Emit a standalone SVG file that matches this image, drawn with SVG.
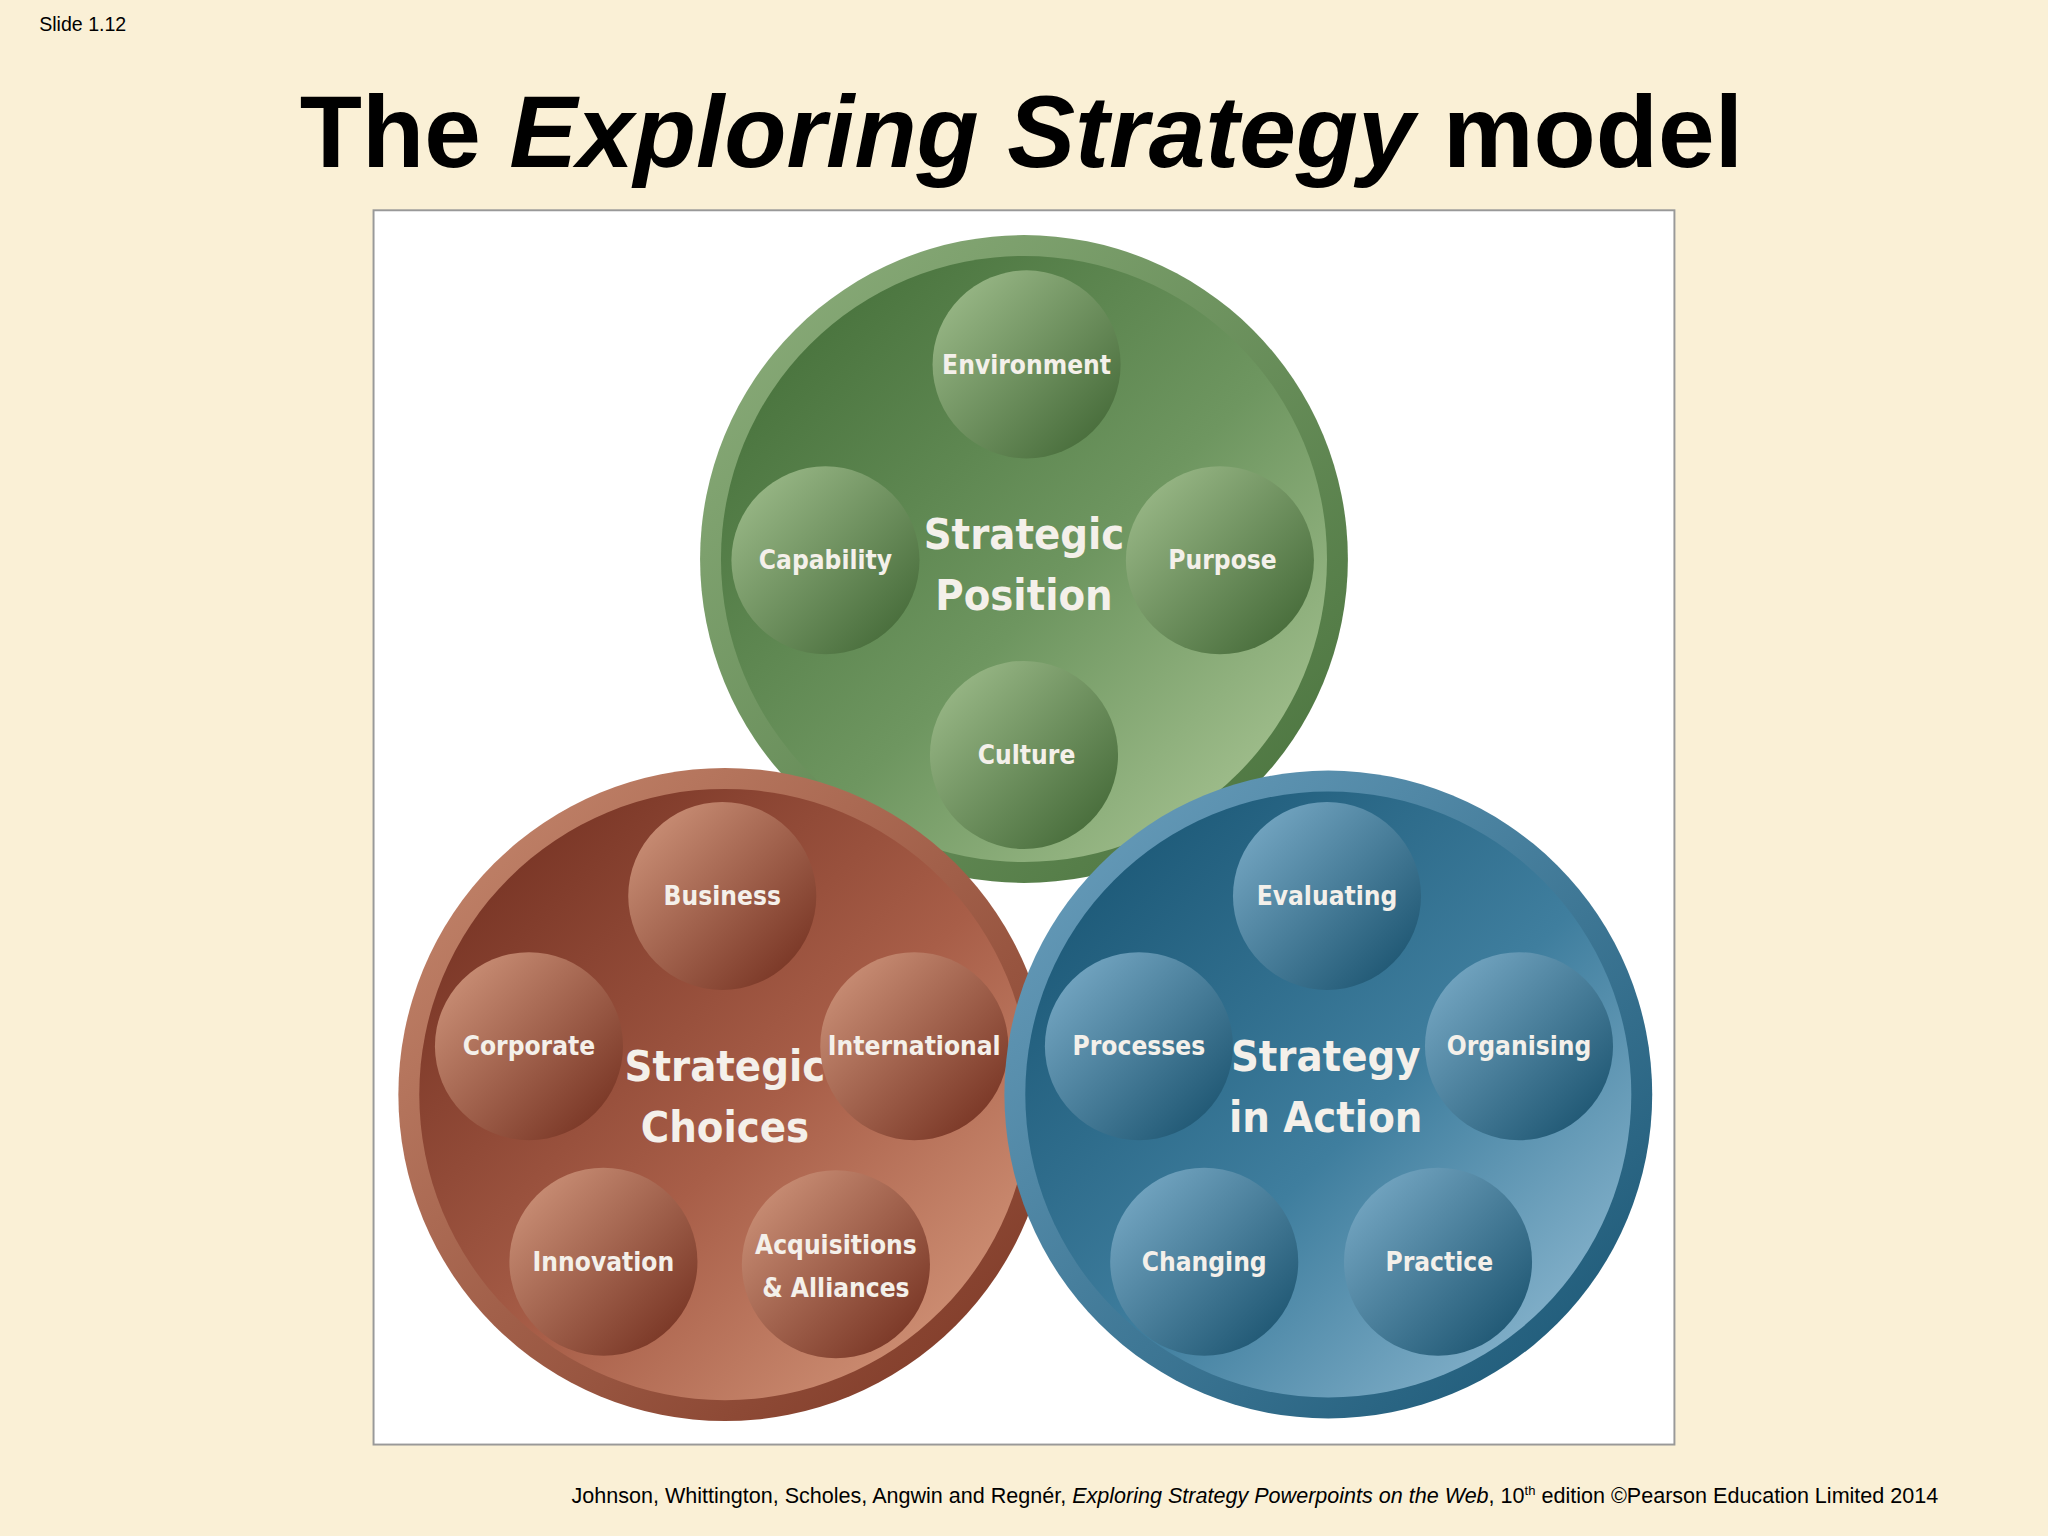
<svg xmlns="http://www.w3.org/2000/svg" width="2048" height="1536" viewBox="0 0 2048 1536">
<defs>
<linearGradient id="gBig" x1="0" y1="0" x2="1" y2="1"><stop offset="0" stop-color="#3f6a34"/><stop offset="0.55" stop-color="#6e9660"/><stop offset="1" stop-color="#b2cc9c"/></linearGradient>
<linearGradient id="gRing" x1="0" y1="0" x2="1" y2="1"><stop offset="0" stop-color="#8fb07e"/><stop offset="1" stop-color="#46703a"/></linearGradient>
<linearGradient id="gSm" x1="0" y1="0" x2="1" y2="1"><stop offset="0" stop-color="#a3c190"/><stop offset="1" stop-color="#3c6230"/></linearGradient>
<linearGradient id="rBig" x1="0" y1="0" x2="1" y2="1"><stop offset="0" stop-color="#6c2a1c"/><stop offset="0.55" stop-color="#a85e48"/><stop offset="1" stop-color="#dba083"/></linearGradient>
<linearGradient id="rRing" x1="0" y1="0" x2="1" y2="1"><stop offset="0" stop-color="#c88a70"/><stop offset="1" stop-color="#7a3422"/></linearGradient>
<linearGradient id="rSm" x1="0" y1="0" x2="1" y2="1"><stop offset="0" stop-color="#d49a80"/><stop offset="1" stop-color="#6e2a1a"/></linearGradient>
<linearGradient id="bBig" x1="0" y1="0" x2="1" y2="1"><stop offset="0" stop-color="#14506e"/><stop offset="0.55" stop-color="#3f7e9e"/><stop offset="1" stop-color="#9cc3da"/></linearGradient>
<linearGradient id="bRing" x1="0" y1="0" x2="1" y2="1"><stop offset="0" stop-color="#6ea2c0"/><stop offset="1" stop-color="#175472"/></linearGradient>
<linearGradient id="bSm" x1="0" y1="0" x2="1" y2="1"><stop offset="0" stop-color="#7fb0cc"/><stop offset="1" stop-color="#134c68"/></linearGradient>
<style>
.t{font-family:"DejaVu Sans Condensed","DejaVu Sans",sans-serif;font-stretch:condensed;font-weight:bold;fill:#f4f0ea;text-anchor:middle}
.s{font-size:20px}.b{font-size:33px}
</style>
</defs>
<rect width="2048" height="1536" fill="#faf0d6"/>
<g transform="scale(1.3061)">
<text x="30" y="24" font-family="Liberation Sans,Arial,sans-serif" font-size="15">Slide 1.12</text>
<text x="782" y="128" text-anchor="middle" font-family="Liberation Sans,Arial,sans-serif" font-weight="bold" font-size="78">The <tspan font-style="italic">Exploring Strategy</tspan> model</text>
<rect x="286" y="161" width="996" height="945" fill="#fff" stroke="#999" stroke-width="1.5"/>
<g id="position">
<circle cx="784" cy="428" r="248" fill="url(#gRing)"/><circle cx="784" cy="428" r="232" fill="url(#gBig)"/>
<text class="t b" x="784" y="420">Strategic</text><text class="t b" x="784" y="467">Position</text>
<g id="environment"><circle cx="786" cy="279" r="72" fill="url(#gSm)"/><text class="t s" x="786" y="286">Environment</text></g>
<g id="capability"><circle cx="632" cy="429" r="72" fill="url(#gSm)"/><text class="t s" x="632" y="436">Capability</text></g>
<g id="purpose"><circle cx="934" cy="429" r="72" fill="url(#gSm)"/><text class="t s" x="936" y="436">Purpose</text></g>
<g id="culture"><circle cx="784" cy="578" r="72" fill="url(#gSm)"/><text class="t s" x="786" y="585">Culture</text></g>
</g>
<g id="choices">
<circle cx="555" cy="838" r="250" fill="url(#rRing)"/><circle cx="555" cy="838" r="234" fill="url(#rBig)"/>
<text class="t b" x="555" y="828">Strategic</text><text class="t b" x="555" y="874">Choices</text>
<g id="business"><circle cx="553" cy="686" r="72" fill="url(#rSm)"/><text class="t s" x="553" y="693">Business</text></g>
<g id="corporate"><circle cx="405" cy="801" r="72" fill="url(#rSm)"/><text class="t s" x="405" y="808">Corporate</text></g>
<g id="international"><circle cx="700" cy="801" r="72" fill="url(#rSm)"/><text class="t s" x="700" y="808">International</text></g>
<g id="innovation"><circle cx="462" cy="966" r="72" fill="url(#rSm)"/><text class="t s" x="462" y="973">Innovation</text></g>
<g id="acquisitions"><circle cx="640" cy="968" r="72" fill="url(#rSm)"/><text class="t s" x="640" y="960">Acquisitions</text><text class="t s" x="640" y="993">&amp; Alliances</text></g>
</g>
<g id="action">
<circle cx="1017" cy="838" r="248" fill="url(#bRing)"/><circle cx="1017" cy="838" r="232" fill="url(#bBig)"/>
<text class="t b" x="1015" y="820">Strategy</text><text class="t b" x="1015" y="867">in Action</text>
<g id="evaluating"><circle cx="1016" cy="686" r="72" fill="url(#bSm)"/><text class="t s" x="1016" y="693">Evaluating</text></g>
<g id="processes"><circle cx="872" cy="801" r="72" fill="url(#bSm)"/><text class="t s" x="872" y="808">Processes</text></g>
<g id="organising"><circle cx="1163" cy="801" r="72" fill="url(#bSm)"/><text class="t s" x="1163" y="808">Organising</text></g>
<g id="changing"><circle cx="922" cy="966" r="72" fill="url(#bSm)"/><text class="t s" x="922" y="973">Changing</text></g>
<g id="practice"><circle cx="1101" cy="966" r="72" fill="url(#bSm)"/><text class="t s" x="1102" y="973">Practice</text></g>
</g>
<text x="1484" y="1151" text-anchor="end" font-family="Liberation Sans,Arial,sans-serif" font-size="16.5">Johnson, Whittington, Scholes, Angwin and Regnér, <tspan font-style="italic">Exploring Strategy Powerpoints on the Web</tspan>, 10<tspan font-size="10" dy="-6">th</tspan><tspan dy="6"> edition ©Pearson Education Limited 2014</tspan></text>
</g>
</svg>
